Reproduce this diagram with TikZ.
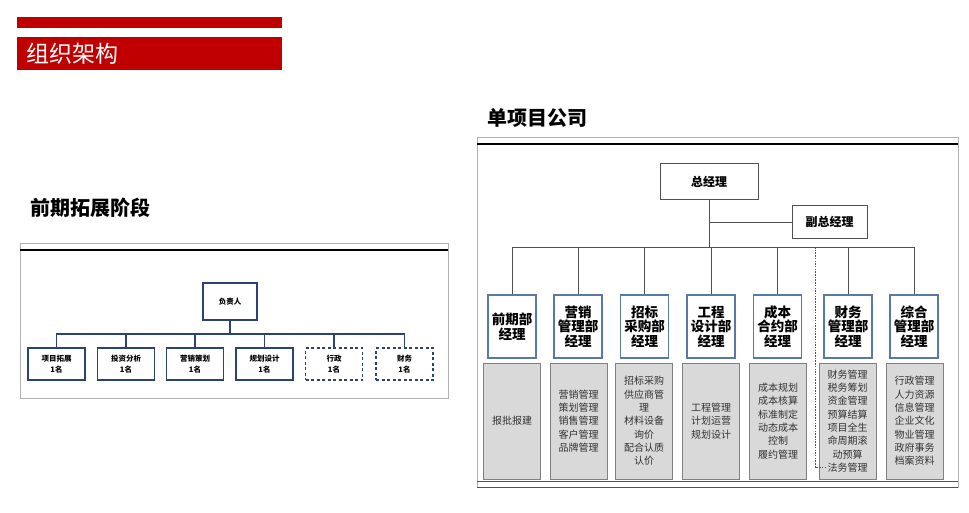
\documentclass[tikz,border=0pt]{standalone}
\usepackage{fontspec}
\setmainfont{Noto Sans CJK SC}
\definecolor{cred}{HTML}{C00000}
\definecolor{navy}{HTML}{2B4372}
\definecolor{steel}{HTML}{5878A8}
\definecolor{gfill}{HTML}{D9D9D9}
\definecolor{gline}{HTML}{808080}
\definecolor{dline}{HTML}{505050}
\tikzset{
  lbox/.style={draw=navy, line width=1.3pt, fill=white, inner sep=0pt, minimum width=57pt, minimum height=32pt,
    align=center, font=\fontsize{7.5}{11}\selectfont\bfseries},
  lconn/.style={draw=navy, line width=1.2pt},
  dept/.style={draw=steel, line width=1.1pt, fill=white, inner sep=0pt, minimum width=48pt, minimum height=63pt,
    align=center, font=\fontsize{13.5}{14.5}\selectfont\bfseries},
  gbox/.style={draw=gline, line width=0.9pt, fill=gfill, inner sep=0pt, minimum width=57pt, minimum height=116pt,
    align=center, text=black!80, font=\fontsize{10}{13.3}\selectfont},
  topbox/.style={draw=dline, line width=1pt, fill=white, inner sep=0pt, align=center,
    font=\fontsize{12}{14}\selectfont\bfseries},
  rconn/.style={draw=dline, line width=0.8pt},
  heading/.style={anchor=west, inner sep=0pt, font=\fontsize{20}{22}\selectfont\bfseries}
}
\begin{document}
\begin{tikzpicture}[x=1pt,y=-1pt]
\useasboundingbox (0,0) rectangle (969,513);
\fill[white] (0,0) rectangle (969,513);
% title bars
\fill[cred] (17,17) rectangle (282,28);
\fill[cred] (17,37) rectangle (282,70);
\node[anchor=west, inner sep=0pt, text=white, font=\fontsize{23}{25}\selectfont] (title) at (26,53.5) {组织架构};
% headings
\node[heading] (h1) at (30,208) {前期拓展阶段};
\node[heading] (h2) at (487,118) {单项目公司};

% ---------- left chart ----------
\draw[gray!60, line width=0.8pt] (20,243) rectangle (448,398);
\draw[black, line width=1.2pt] (20,250) -- (448,250);
\node[lbox, minimum width=54pt, minimum height=37pt] (boss) at (230,301.5) {负责人};
\node[lbox] (c1) at (56.5,364) {项目拓展\\1名};
\node[lbox] (c2) at (126,364) {投资分析\\1名};
\node[lbox] (c3) at (195,364) {营销策划\\1名};
\node[lbox] (c4) at (264.5,364) {规划设计\\1名};
\node[lbox, dashed, dash pattern=on 3pt off 2.5pt] (c5) at (334,364) {行政\\1名};
\node[lbox, dashed, dash pattern=on 3pt off 2.5pt] (c6) at (404.5,364) {财务\\1名};
\coordinate (lbus) at (230,334);
\draw[lconn] (boss.south) -- (lbus);
\foreach \c in {c1,c2,c3,c4,c5,c6}{\draw[lconn] (lbus) -| (\c.north);}

% ---------- right chart ----------
\draw[gray!60, line width=0.8pt] (477,137) rectangle (958,487);
\draw[black, line width=1.2pt] (477,144) -- (958,144);
\draw[dline, line width=1pt] (477,481) -- (958,481);
\draw[dline, line width=1pt] (477,487) -- (958,487);

\node[topbox, minimum width=98pt, minimum height=36pt] (gm) at (709,182) {总经理};
\node[topbox, minimum width=75pt, minimum height=32pt] (vgm) at (829.5,222) {副总经理};
\coordinate (rbus) at (709,247);
\coordinate (vj) at (709,222);
\draw[rconn] (gm.south) -- (rbus);
\draw[rconn] (vj) -- (vgm.west);

\node[dept] (d1) at (512,326.5) {前期部\\经理};
\node[dept] (d2) at (578,326.5) {营销\\管理部\\经理};
\node[dept] (d3) at (644.5,326.5) {招标\\采购部\\经理};
\node[dept] (d4) at (711,326.5) {工程\\设计部\\经理};
\node[dept] (d5) at (777.5,326.5) {成本\\合约部\\经理};
\node[dept] (d6) at (848,326.5) {财务\\管理部\\经理};
\node[dept] (d7) at (914,326.5) {综合\\管理部\\经理};
\foreach \d in {d1,d2,d3,d4,d5,d6,d7}{\draw[rconn] (rbus) -| (\d.north);}

\node[gbox] (g1) at (512,421) {报批报建};
\node[gbox] (g2) at (578.5,421) {营销管理\\策划管理\\销售管理\\客户管理\\品牌管理};
\node[gbox] (g3) at (644,421) {招标采购\\供应商管\\理\\材料设备\\询价\\配合认质\\认价};
\node[gbox] (g4) at (711,421) {工程管理\\计划运营\\规划设计};
\node[gbox] (g5) at (778,421) {成本规划\\成本核算\\标准制定\\动态成本\\控制\\履约管理};
\node[gbox] (g6) at (847.5,421) {财务管理\\税务筹划\\资金管理\\预算结算\\项目全生\\命周期滚\\动预算\\法务管理};
\node[gbox] (g7) at (914.5,421) {行政管理\\人力资源\\信息管理\\企业文化\\物业管理\\政府事务\\档案资料};

\coordinate (dtop) at (815,247);
\coordinate (dend) at (827,467);
\draw[dline, line width=0.7pt, dash pattern=on 1.5pt off 1.2pt] (dtop) |- (dend);
\end{tikzpicture}
\end{document}
